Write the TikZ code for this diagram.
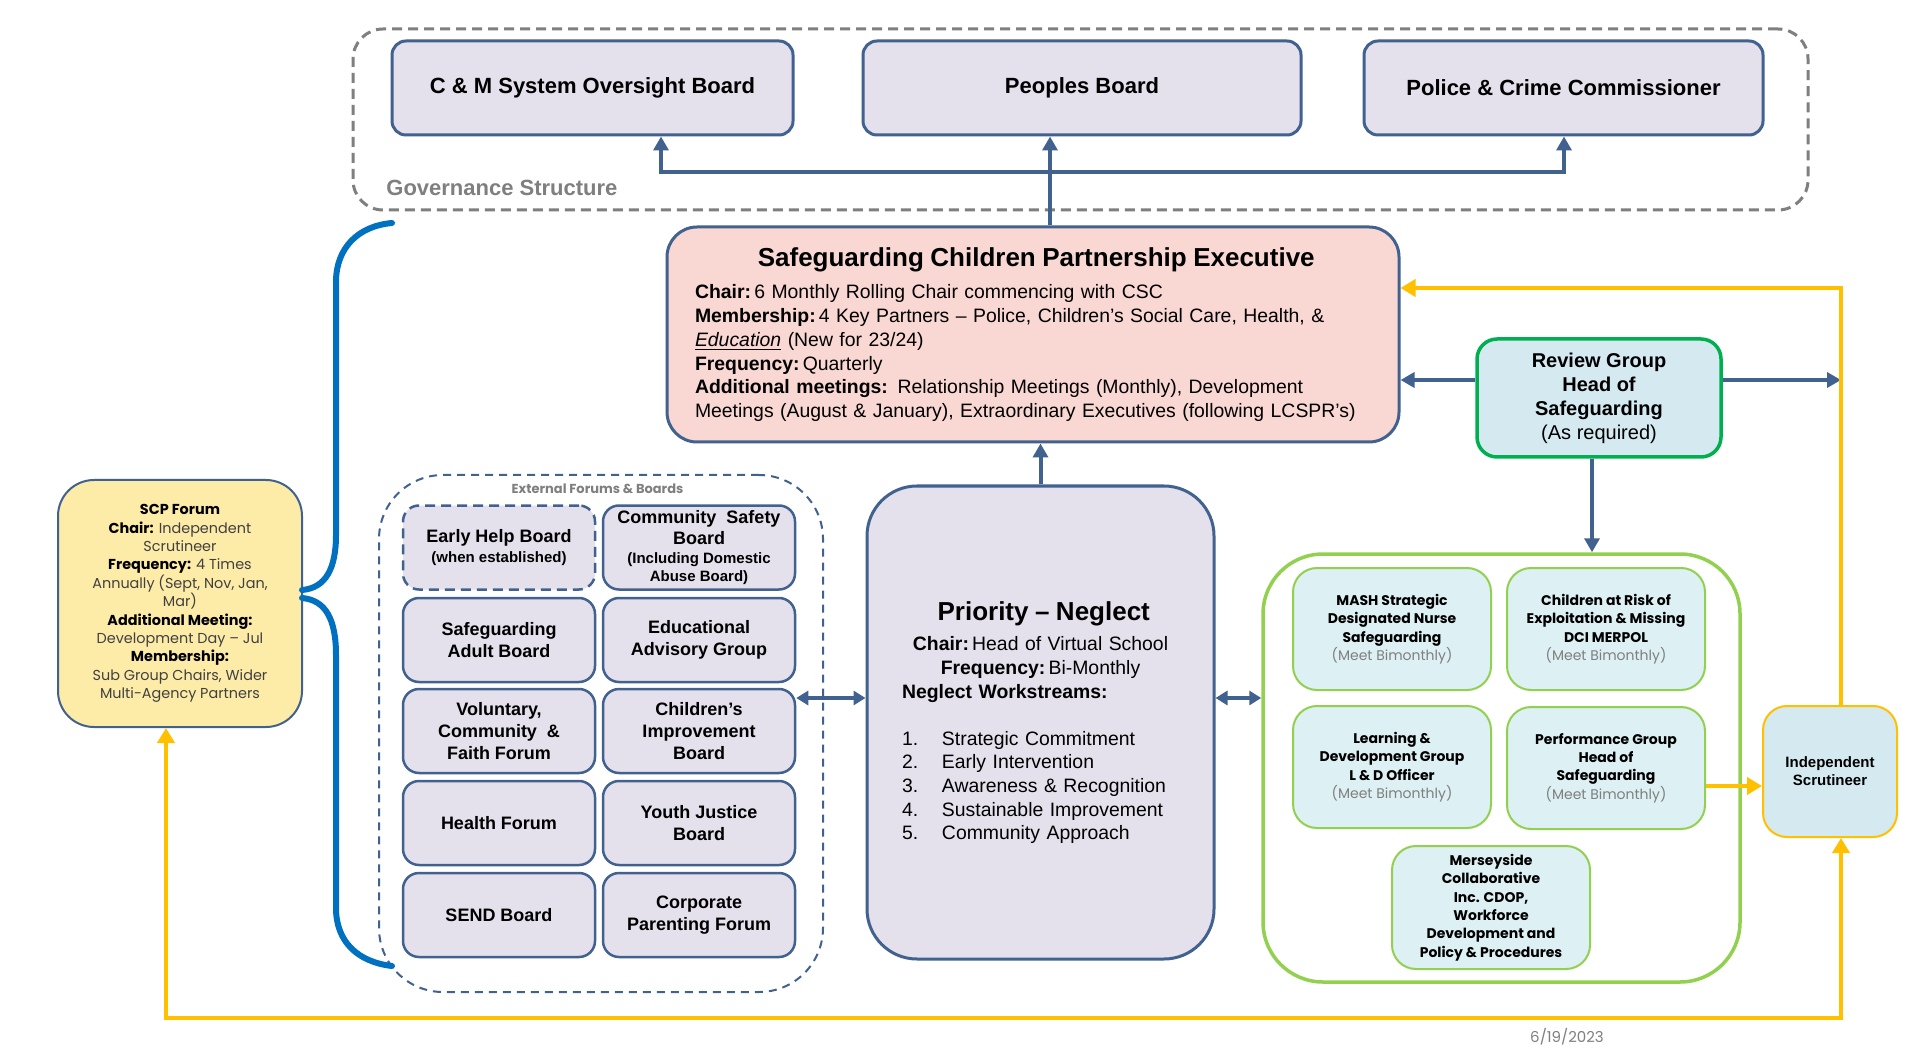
\documentclass[tikz,border=0pt]{standalone}
\usepackage{fontspec}
\setmainfont{Liberation Sans}
\newfontfamily\cgfont{Poppins}
\usetikzlibrary{arrows.meta,calc}
\setlength{\parindent}{0pt}
\setlength{\parskip}{0pt}
\definecolor{steel}{HTML}{41628F}
\definecolor{lav}{HTML}{E4E0EC}
\definecolor{pinkc}{HTML}{F9D7D3}
\definecolor{lblue}{HTML}{D4E9F0}
\definecolor{lcyan}{HTML}{DDF0F4}
\definecolor{dgreen}{HTML}{00B050}
\definecolor{lgreen}{HTML}{92D050}
\definecolor{gold}{HTML}{FFC000}
\definecolor{lyellow}{HTML}{FDEBA8}
\definecolor{gtext}{HTML}{7F7F7F}
\definecolor{bracec}{HTML}{0070C0}
\definecolor{dgray}{HTML}{404040}
\newcommand\scpval[1]{\textcolor{dgray}{#1}}
\newcommand\meetbi{{\mdseries\color{gtext}(Meet Bimonthly)}}
\newcommand\smalltxt[1]{{\fontsize{7.5}{9.2}\selectfont #1}}
\tikzset{
  topbox/.style={draw=steel, fill=lav, line width=1.5pt, rounded corners=7pt, inner sep=0pt,
    align=center, minimum height=47pt, font=\fontsize{11}{13}\selectfont\bfseries},
  extbox/.style={draw=steel, fill=lav, line width=1.25pt, rounded corners=8pt, minimum width=96pt,
    minimum height=42pt, inner sep=0pt, align=center, font=\fontsize{9}{10.8}\selectfont\bfseries},
  grnbox/.style={draw=lgreen, fill=lcyan, line width=1pt, rounded corners=12pt, minimum width=99pt,
    minimum height=61pt, inner sep=0pt, align=center, font=\cgfont\fontsize{7}{9.2}\selectfont\bfseries},
  sline/.style={draw=steel, line width=2pt},
  sarrow/.style={sline, -{Triangle[length=7pt,width=7.5pt]}},
  sboth/.style={sline, {Triangle[length=6pt,width=7pt]}-{Triangle[length=6pt,width=7pt]}},
  yline/.style={draw=gold, line width=2pt},
  yarrow/.style={yline, -{Triangle[length=7.5pt,width=8.5pt]}},
  yboth/.style={yline, {Triangle[length=7.5pt,width=8.5pt]}-{Triangle[length=7.5pt,width=8.5pt]}},
  small/.style={font=\fontsize{7.5}{9}\selectfont\bfseries}
}
\begin{document}
\begin{tikzpicture}[x=0.5pt,y=-0.5pt]
\fill[white] (0,0) rectangle (1920,1058);
\useasboundingbox (0,0) rectangle (1920,1058);

% governance
\node[draw=gtext, line width=1.5pt, dash pattern=on 5pt off 3pt, rounded corners=15pt,
  minimum width=727.5pt, minimum height=90.5pt, inner sep=0pt] (gov) at (1080.5,119.5) {};
\node[anchor=west, text=gtext, font=\fontsize{11}{13}\selectfont\bfseries, inner sep=0pt] (govlbl) at (386,187.6) {Governance Structure};
\node[topbox, minimum width=200.5pt] (cm) at (592.5,88) {C \& M System Oversight Board};
\node[topbox, minimum width=219pt] (peoples) at (1082,88) {Peoples Board};
\node[topbox, minimum width=199.5pt] (pcc) at (1563.5,88) {Police \& Crime Commissioner};

% executive
\node[draw=steel, fill=pinkc, line width=1.5pt, rounded corners=15pt, minimum height=107.5pt,
  text width=338pt, inner xsep=14pt, inner ysep=0pt, font=\fontsize{9.7}{11.9}\selectfont] (exec) at (1033,334.5) {%
\vspace*{6.5pt}
\centering{\fontsize{13}{15}\selectfont\bfseries Safeguarding Children Partnership Executive\par}
\vspace{-2.2pt}
\raggedright
\textbf{Chair:}\,6 Monthly Rolling Chair commencing with CSC\\
\textbf{Membership:}\,4 Key Partners – Police, Children’s Social Care, Health, \&\\
\underline{\textit{Education}} (New for 23/24)\\
\textbf{Frequency:}\,Quarterly\\
\textbf{Additional meetings:} Relationship Meetings (Monthly), Development\\
Meetings (August \& January), Extraordinary Executives (following LCSPR’s)\par};

% review group
\node[draw=dgreen, fill=lblue, line width=1.75pt, rounded corners=10pt, minimum width=122pt,
  minimum height=59pt, inner sep=0pt, align=center, font=\fontsize{10}{12}\selectfont] (review) at (1599,398)
  {\textbf{Review Group}\\\textbf{Head of}\\\textbf{Safeguarding}\\(As required)};

% priority
\node[draw=steel, fill=lav, line width=1.5pt, rounded corners=25pt, minimum height=236.5pt,
  text width=138.5pt, inner xsep=17.5pt, inner ysep=0pt, font=\fontsize{9.7}{11.8}\selectfont] (prio) at (1040.5,722.5) {%
\vspace*{5pt}
\centering{\fontsize{13}{15}\selectfont\bfseries Priority – Neglect\par}
\vspace{-1.5pt}
\textbf{Chair:}\,Head of Virtual School\par
\textbf{Frequency:}\,Bi-Monthly\par
\raggedright\textbf{Neglect Workstreams:}\par
\vspace{11.8pt}
\makebox[20pt][l]{1.}Strategic Commitment\par
\makebox[20pt][l]{2.}Early Intervention\par
\makebox[20pt][l]{3.}Awareness \& Recognition\par
\makebox[20pt][l]{4.}Sustainable Improvement\par
\makebox[20pt][l]{5.}Community Approach\par};

% external forums
\node[draw=steel, line width=1pt, dash pattern=on 4pt off 3pt, rounded corners=32pt,
  minimum width=222pt, minimum height=258.5pt, inner sep=0pt] (ext) at (601,733.5) {};
\node[text=gtext, font=\cgfont\fontsize{6.5}{8}\selectfont\bfseries, inner sep=0pt] (extlbl) at (597.5,489) {External Forums \& Boards};
\node[extbox, dash pattern=on 5pt off 3pt] (ehb) at (499,547.5) {Early Help Board\\[-1pt]\smalltxt{(when established)}};
\node[extbox] (csb) at (699,547.5) {Community~~Safety\\Board\\[-1.5pt]\smalltxt{(Including Domestic}\\[-1.5pt]\smalltxt{Abuse Board)}};
\node[extbox] (sab) at (499,640) {Safeguarding\\Adult Board};
\node[extbox] (eag) at (699,640) {Educational\\Advisory Group};
\node[extbox] (vcf) at (499,731) {Voluntary,\\Community~~\&\\Faith Forum};
\node[extbox] (cib) at (699,731) {Children’s\\Improvement\\Board};
\node[extbox] (hf) at (499,823) {Health Forum};
\node[extbox] (yjb) at (699,823) {Youth Justice\\Board};
\node[extbox] (send) at (499,915) {SEND Board};
\node[extbox] (cpf) at (699,915) {Corporate\\Parenting Forum};

% green group
\node[draw=lgreen, line width=1.75pt, rounded corners=30pt, minimum width=238.5pt, minimum height=214pt, inner sep=0pt] (green) at (1501.5,768) {};
\node[grnbox] (mash) at (1392,629) {MASH Strategic\\Designated Nurse\\Safeguarding\\\meetbi};
\node[grnbox] (risk) at (1606,629) {Children at Risk of\\Exploitation \& Missing\\DCI MERPOL\\\meetbi};
\node[grnbox] (learn) at (1392,767) {Learning \&\\Development Group\\L \& D Officer\\\meetbi};
\node[grnbox] (perf) at (1606,768) {Performance Group\\Head of\\Safeguarding\\\meetbi};
\node[grnbox, minimum height=61.5pt] (mers) at (1491,907.5) {Merseyside\\Collaborative\\Inc. CDOP,\\Workforce\\Development and\\Policy \& Procedures};

% scrutineer
\node[draw=gold, fill=lblue, line width=1pt, rounded corners=12pt, minimum width=67pt, minimum height=65.5pt,
  inner sep=0pt, align=center, small] (scr) at (1830,771.5) {Independent\\Scrutineer};

% SCP forum
\node[draw=steel, fill=lyellow, line width=1pt, rounded corners=18pt, minimum width=122pt, minimum height=123.5pt,
  inner sep=0pt, align=center, font=\cgfont\fontsize{7.2}{9.2}\selectfont] (scp) at (180,603.5) {%
\textbf{SCP Forum}\\
\textbf{Chair:} \scpval{Independent}\\
\scpval{Scrutineer}\\
\textbf{Frequency:} \scpval{4 Times}\\
\scpval{Annually (Sept, Nov, Jan,}\\
\scpval{Mar)}\\
\textbf{Additional Meeting:}\\
\scpval{Development Day – Jul}\\
\textbf{Membership:}\\
\scpval{Sub Group Chairs, Wider}\\
\scpval{Multi-Agency Partners}};

% date
\node[text=gtext, font=\cgfont\fontsize{7.5}{9}\selectfont, inner sep=0pt] (date) at (1567,1037) {6/19/2023};

% coordinates
\coordinate (cmx) at (661,171.7);
\coordinate (pcx) at (1564,171.7);
\coordinate (px) at (1050,0);
\coordinate (ry) at (0,380);
\coordinate (ylx) at (1841,0);
\coordinate (yty) at (0,288);
\coordinate (yby) at (0,1018);
\coordinate (scpx) at (166,0);
\coordinate (rdx) at (1592,0);
\coordinate (dy) at (0,698);
\coordinate (pay) at (0,786);

% steel connectors
\draw[sarrow] (exec.north -| px) -- (peoples.south -| px);
\draw[sline, {Triangle[length=7pt,width=7.5pt]}-{Triangle[length=7pt,width=7.5pt]}]
  (cmx |- cm.south) -- (cmx) -- (pcx) -- (pcx |- pcc.south);
\draw[sarrow] (prio.north) -- (exec.south -| prio.north);
\draw[sarrow] (review.west |- ry) -- (exec.east |- ry);
\draw[sarrow] (review.east |- ry) -- (ylx |- ry);
\draw[sarrow] (review.south -| rdx) -- (green.north -| rdx);
\draw[sboth] (cib.east |- dy) -- (prio.west |- dy);
\draw[sboth] (prio.east |- dy) -- (green.west |- dy);

% yellow connectors
\draw[yarrow] (scr.north -| ylx) -- (ylx |- yty) -- (exec.east |- yty);
\draw[yboth] (scr.south -| ylx) -- (ylx |- yby) -- (scpx |- yby) -- (scp.south -| scpx);
\draw[yarrow] (perf.east |- pay) -- (scr.west |- pay);

% blue brace
\draw[bracec, line width=3pt, line cap=round]
  (392,223) .. controls (358,226) and (336,248) .. (336,282) -- (336,535)
  .. controls (336,568) and (326,588) .. (302,590);
\draw[bracec, line width=3pt, line cap=round]
  (302,598) .. controls (326,600) and (336,620) .. (336,655) -- (336,908)
  .. controls (336,942) and (358,962) .. (392,966);
\end{tikzpicture}
\end{document}
